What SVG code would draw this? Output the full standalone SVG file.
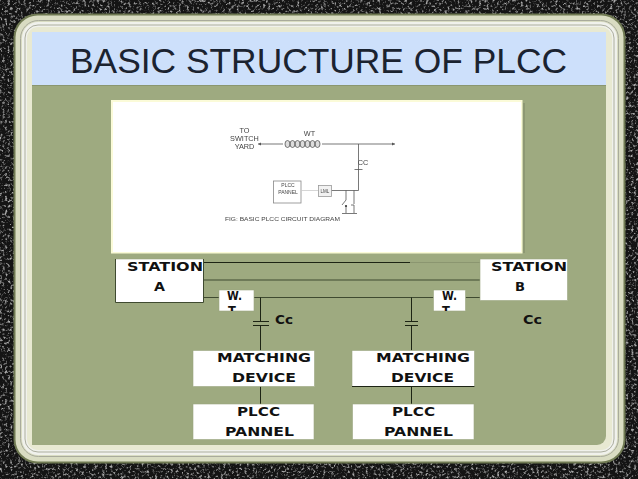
<svg xmlns="http://www.w3.org/2000/svg" width="638" height="479" viewBox="0 0 638 479">
<style>
.box{fill:#fff;stroke:#9aa67f;stroke-width:.6}
.lab{font-family:"DejaVu Sans",sans-serif;font-weight:700;font-size:11.5px;fill:#111}
.w{stroke:#1d2414;stroke-width:1;fill:none}
.w2{stroke:#3f4a30;stroke-width:1;fill:none}
.t{font-family:"Liberation Sans",Arial,sans-serif;font-size:7.300px;fill:#444;text-anchor:middle}
.g{stroke:#555;stroke-width:.8;fill:none}
</style>
<defs>
<filter id="noise" x="0" y="0" width="100%" height="100%">
<feTurbulence type="fractalNoise" baseFrequency=".38" numOctaves="3" seed="4"/>
<feColorMatrix type="matrix" values="0 0 0 0 .4 0 0 0 0 .4 0 0 0 0 .4 3.500 0 0 0 -1.800"/>
<feGaussianBlur stdDeviation=".4"/>
</filter>
<filter id="soft"><feGaussianBlur stdDeviation=".35"/></filter>
<filter id="soft2"><feGaussianBlur stdDeviation=".7"/></filter>
<clipPath id="wtA"><rect x="219" y="290" width="35" height="21"/></clipPath>
<clipPath id="wtB"><rect x="433.500" y="290" width="32" height="21"/></clipPath>
<marker id="ah" markerWidth="5" markerHeight="5" refX="4" refY="2" orient="auto-start-reverse"><path d="M0 0L4 2L0 4z" fill="#555"/></marker>
</defs>

<g id="background">
<rect width="638" height="479" fill="#141414"/>
<rect width="638" height="479" filter="url(#noise)"/>
<g filter="url(#soft2)">
<rect x="13.500" y="13.500" width="612" height="450" rx="24" fill="#6f7a52"/>
<rect x="15.500" y="15.500" width="608" height="446" rx="22" fill="#d9dcc2"/>
<rect x="20.500" y="20.500" width="598" height="436" rx="18" fill="none" stroke="#a9ab9c" stroke-width="1"/>
<rect x="22" y="22" width="595" height="433" rx="16" fill="#f0f1ec"/>
<rect x="25" y="25" width="589" height="427" rx="13" fill="none" stroke="#acae9f" stroke-width="1"/>
<rect x="27" y="27" width="585" height="423" rx="11" fill="#e8e9d2"/>
</g>
<path d="M32 32H606V436a9 9 0 0 1-9 9H32z" fill="#9eaa80"/>
<rect x="32" y="32" width="574" height="53" fill="#cde0fb"/>
<rect x="32" y="85" width="574" height="1" fill="#8a9670"/>
</g>

<text id="title" x="70" y="73" font-family="Liberation Sans, Arial, sans-serif" font-size="35.500px" fill="#1b2330" textLength="497" lengthAdjust="spacingAndGlyphs">BASIC STRUCTURE OF PLCC</text>

<g id="figure">
<rect x="523" y="103" width="2" height="150" fill="#8d9873"/>
<rect x="111" y="100" width="411.500" height="153.500" fill="#fbfbd8"/>
<rect x="113" y="102" width="408" height="150" fill="#fff"/>
<g filter="url(#soft)">
<text class="t" x="244.500" y="133">TO</text>
<text class="t" x="244.500" y="141">SWITCH</text>
<text class="t" x="244.500" y="149">YARD</text>
<text class="t" x="309.500" y="136">WT</text>
<text class="t" x="363" y="165" font-size="6px">CC</text>
<path class="g" d="M283 144H258" marker-end="url(#ah)"/>
<path class="g" d="M322 144H395" marker-end="url(#ah)"/>
<path d="M285 144a2.500 3.500 0 0 1 5 0a2.500 3.500 0 0 1 5 0a2.500 3.500 0 0 1 5 0a2.500 3.500 0 0 1 5 0a2.500 3.500 0 0 1 5 0a2.500 3.500 0 0 1 5 0a2.500 3.500 0 0 1 5 0a2.500 3.500 0 0 1-5 0a2.500 3.500 0 0 1-5 0a2.500 3.500 0 0 1-5 0a2.500 3.500 0 0 1-5 0a2.500 3.500 0 0 1-5 0a2.500 3.500 0 0 1-5 0a2.500 3.500 0 0 1-5 0" fill="#ddd" stroke="#555" stroke-width=".8"/>
<path class="g" d="M358.500 144V190.500H331M354.500 169.500H362.500"/>
<rect x="273.500" y="181" width="27.500" height="22" fill="#fff" stroke="#888" stroke-width=".8"/>
<text class="t" x="288" y="187" style="font-size:5px">PLCC</text>
<text class="t" x="288" y="194" style="font-size:5px">PANNEL</text>
<path d="M301 190.500H318" stroke="#ccc" stroke-width=".8"/>
<rect x="318.500" y="185.500" width="13" height="11" fill="#f2f2f2" stroke="#999" stroke-width=".8"/>
<text class="t" x="325" y="192.500" style="font-size:4.500px">LML</text>
<path class="g" d="M346 190.500V200L342 205M346 206V213M342 213.500H350M354 190.500V204M351 205H354V213M350 213.500H357"/>
<circle cx="346" cy="206" r="1.100" fill="#333"/>
<text class="t" x="282.500" y="221" style="font-size:5.600px" textLength="115" lengthAdjust="spacingAndGlyphs">FIG: BASIC PLCC CIRCUIT DIAGRAM</text>
</g>
</g>

<g id="connectors">
<path d="M203 262.500H410" stroke="#1d2414" stroke-width="1" fill="none"/>
<path d="M410 262.500H480" stroke="#8b9670" stroke-width="1" fill="none"/>
<path class="w2" d="M203 280H480"/>
<path class="w2" d="M203 297.500H219M254 297.500H433.500M465.500 297.500H480"/>
<path class="w" d="M260.500 297.500V321.500M253 321.500H269M253 325.500H269M260.500 325.500V350.500M260.500 386.500V404"/>
<path class="w" d="M411.500 297.500V321.500M405 321.500H418M405 325.500H418M411.500 325.500V350.500M411.500 386.500V404"/>
</g>

<g id="station-a"><rect class="box" x="115.500" y="259" width="88" height="43.500"/><path class="w2" d="M115.500 259V302.500H203.500V259"/>
<text class="lab" x="127" y="271" textLength="76" lengthAdjust="spacingAndGlyphs">STATION</text>
<text class="lab" x="154" y="291" textLength="11" lengthAdjust="spacingAndGlyphs">A</text></g>
<g id="station-b"><rect class="box" x="480" y="259" width="87.500" height="41.500"/>
<text class="lab" x="491" y="271" textLength="76" lengthAdjust="spacingAndGlyphs">STATION</text>
<text class="lab" x="515" y="291" textLength="10" lengthAdjust="spacingAndGlyphs">B</text></g>
<g id="wt-a"><rect class="box" x="219" y="290" width="35" height="21"/>
<text class="lab" x="227" y="300" textLength="15" lengthAdjust="spacingAndGlyphs" clip-path="url(#wtA)">W.</text>
<text class="lab" x="228" y="315" clip-path="url(#wtA)">T</text></g>
<g id="wt-b"><rect class="box" x="433.500" y="290" width="32" height="21"/>
<text class="lab" x="442" y="300" textLength="15" lengthAdjust="spacingAndGlyphs" clip-path="url(#wtB)">W.</text>
<text class="lab" x="442" y="315" clip-path="url(#wtB)">T</text></g>
<g id="cc-a"><text class="lab" x="275" y="324" textLength="18" lengthAdjust="spacingAndGlyphs">Cc</text></g>
<g id="cc-b"><text class="lab" x="523" y="324" textLength="19" lengthAdjust="spacingAndGlyphs">Cc</text></g>
<g id="matching-a"><rect class="box" x="193" y="350.500" width="121.500" height="36"/>
<text class="lab" x="217" y="362" textLength="94" lengthAdjust="spacingAndGlyphs">MATCHING</text>
<text class="lab" x="232" y="382" textLength="64" lengthAdjust="spacingAndGlyphs">DEVICE</text></g>
<g id="matching-b"><rect class="box" x="352" y="350.500" width="122.500" height="36"/><path class="w" d="M352 386.500H474.500"/>
<text class="lab" x="376" y="362" textLength="94" lengthAdjust="spacingAndGlyphs">MATCHING</text>
<text class="lab" x="391" y="382" textLength="63" lengthAdjust="spacingAndGlyphs">DEVICE</text></g>
<g id="plcc-a"><rect class="box" x="193" y="404" width="121" height="35.500"/>
<text class="lab" x="237" y="416" textLength="43" lengthAdjust="spacingAndGlyphs">PLCC</text>
<text class="lab" x="225" y="436" textLength="69" lengthAdjust="spacingAndGlyphs">PANNEL</text></g>
<g id="plcc-b"><rect class="box" x="352.500" y="404" width="121.500" height="35.500"/>
<text class="lab" x="392" y="416" textLength="43" lengthAdjust="spacingAndGlyphs">PLCC</text>
<text class="lab" x="384" y="436" textLength="69" lengthAdjust="spacingAndGlyphs">PANNEL</text></g>
</svg>
